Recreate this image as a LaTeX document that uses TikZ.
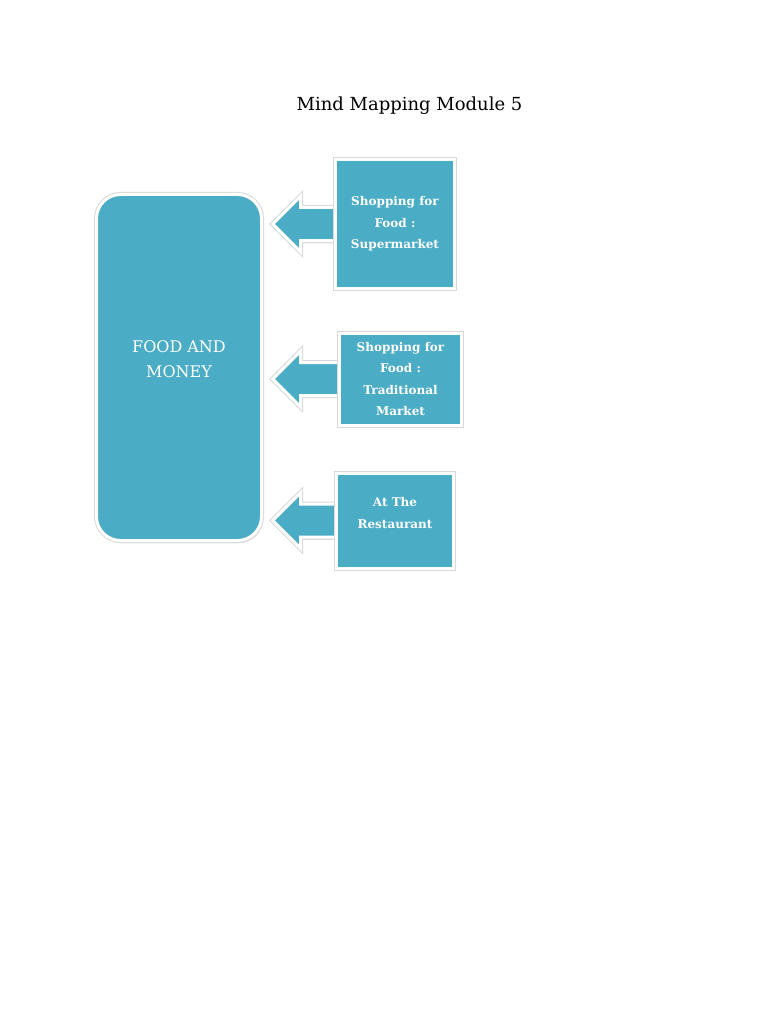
\documentclass[tikz,border=0pt]{standalone}
\usepackage{fontspec}
\setmainfont{DejaVu Serif}
\usetikzlibrary{shadows,calc}
\definecolor{aqua}{HTML}{4BACC6}
\tikzset{
  shad/.style={drop shadow={opacity=0.3,shadow xshift=1.5pt,shadow yshift=-2.5pt},
    preaction={draw=gray!30,line width=5pt}},
  mainbox/.style={draw=white,line width=3pt,fill=aqua,rounded corners=24pt,shad},
  topic/.style={draw=white,line width=3pt,fill=aqua,shad,
    text=white,align=center,font=\bfseries\fontsize{12}{21.5}\selectfont},
  arr/.style={draw=white,line width=3pt,fill=aqua,shad,line join=miter},
  lbl/.style={text=white,align=center},
  title/.style={font=\fontsize{18}{22}\selectfont,text=black}
}
\begin{document}
\begin{tikzpicture}[x=1pt,y=-1pt]
\useasboundingbox[fill=white] (0,0) rectangle (768,1024);
\node[title] (t) at (409.5,106) {Mind Mapping Module 5};
% phantom nodes for geometry
\path (179,367.5) node[minimum width=165pt,minimum height=346pt,inner sep=0pt] (mainph) {};
\path (395,224) node[minimum width=119pt,minimum height=129pt,inner sep=0pt] (b1ph) {};
\path (400.5,379) node[minimum width=122pt,minimum height=92pt,inner sep=0pt] (b2ph) {};
\path (395,520.5) node[minimum width=117pt,minimum height=95pt,inner sep=0pt] (b3ph) {};
% arrows
\foreach \b in {b1ph,b2ph,b3ph}{
  \draw[arr] let \p1=(mainph.east), \p2=(\b.west) in
    (\x1+11pt,\y2) -- (\x1+39pt,\y2+28pt) -- (\x1+39pt,\y2+16.5pt) -- (\x2+6pt,\y2+16.5pt)
    -- (\x2+6pt,\y2-16.5pt) -- (\x1+39pt,\y2-16.5pt) -- (\x1+39pt,\y2-28pt) -- cycle;
}
% boxes
\node[mainbox,minimum width=165pt,minimum height=346pt,inner sep=0pt] (main) at (179,367.5) {};
\node[lbl,font=\fontsize{16}{25}\selectfont] (mainlabel) at (179,359) {FOOD AND\\MONEY};
\node[topic,minimum width=119pt,minimum height=129pt,inner sep=0pt] (b1) at (395,224) {Shopping for\\Food :\\Supermarket};
\node[topic,minimum width=122pt,minimum height=92pt,inner sep=0pt] (b2) at (400.5,379) {Shopping for\\Food :\\Traditional\\Market};
\node[topic,minimum width=117pt,minimum height=95pt,inner sep=0pt] (b3) at (395,520.5) {};
\node[lbl,font=\bfseries\fontsize{12}{21.5}\selectfont] (b3label) at (395,513) {At The\\Restaurant};
\end{tikzpicture}
\end{document}
